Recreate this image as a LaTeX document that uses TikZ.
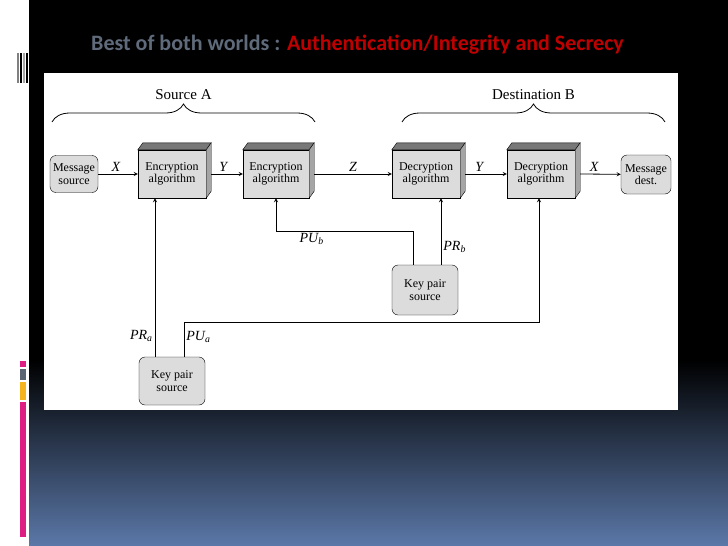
\documentclass[tikz,border=0pt]{standalone}
\usepackage{amsmath}
\usepackage{fontspec}
\setmainfont{Liberation Serif}
\newfontfamily\titlefont{Carlito}
\usetikzlibrary{decorations.pathreplacing}
\definecolor{slideGray}{RGB}{95,106,122}
\definecolor{slideRed}{RGB}{192,0,0}
\definecolor{slideBlue}{RGB}{91,120,168}
\definecolor{boxGray}{RGB}{220,220,220}
\definecolor{topGray}{RGB}{120,120,120}
\definecolor{sideGray}{RGB}{165,165,165}
\definecolor{barPink}{RGB}{222,30,130}
\definecolor{barGray}{RGB}{90,100,115}
\definecolor{barYellow}{RGB}{245,180,30}

\begin{document}
\begin{tikzpicture}[x=1pt, y=-1pt]
  \tikzstyle{algbox} = [rectangle, draw, fill=boxGray, minimum width=68pt, minimum height=48pt, align=center, inner sep=1pt, font=\fontsize{12}{12.5}\selectfont]
  \tikzstyle{endbox} = [rectangle, draw, fill=boxGray, rounded corners=6pt, align=center, inner sep=1pt, font=\fontsize{12}{12.5}\selectfont]
  \tikzstyle{arrow} = [->, >=stealth, thick]
  \tikzstyle{lbl} = [font=\fontsize{14}{14}\selectfont, inner sep=2pt]
  \tikzstyle{bracelbl} = [font=\fontsize{15}{15}\selectfont, above=19pt]

  \useasboundingbox (0,0) rectangle (728,546);
  % slide background
  \fill[white] (0,0) rectangle (728,546);
  \fill[black] (29,0) rectangle (728,546);
  \shade[top color=black, bottom color=slideBlue] (29,360) rectangle (728,546);
  \foreach \x/\c in {18/gray, 21/black, 24/gray!70, 27/black}
    \draw[\c, line width=1.5pt] (\x,53) -- (\x,83);
  \fill[barPink] (20,361) rectangle (26,367);
  \fill[barGray] (20,369) rectangle (26,380);
  \fill[barYellow] (20,382) rectangle (26,400);
  \fill[barPink] (20,402) rectangle (26,537);
  \node[anchor=base west, inner sep=0, text=slideGray, font=\titlefont\bfseries\fontsize{22}{22}\selectfont] (title) at (91,50)
    {Best of both worlds : \textcolor{slideRed}{Authentication/Integrity and Secrecy}};
  \fill[white] (44,73) rectangle (678,410);

  % blocks
  \node[endbox, minimum width=48pt, minimum height=37pt] (src) at (74,174) {Message\\source};
  \node[algbox] (enc1) at (172,174) {Encryption\\algorithm};
  \node[algbox, minimum width=66pt] (enc2) at (276,174) {Encryption\\algorithm};
  \node[algbox] (dec1) at (426,174) {Decryption\\algorithm};
  \node[algbox] (dec2) at (541,174) {Decryption\\algorithm};
  \node[endbox, minimum width=50pt, minimum height=39pt] (dst) at (646,174.5) {Message\\dest.};
  \node[endbox, minimum width=66pt, minimum height=48pt] (keyA) at (172,381) {Key pair\\source};
  \node[endbox, minimum width=66pt, minimum height=50pt] (keyB) at (425,290) {Key pair\\source};

  % 3d faces
  \foreach \b in {enc1,enc2,dec1,dec2} {
    \filldraw[fill=topGray] (\b.north west) -- ++(5,-7) -- ([shift={(5,-7)}]\b.north east) -- (\b.north east) -- cycle;
    \filldraw[fill=sideGray] (\b.north east) -- ++(5,-7) -- ([shift={(5,-7)}]\b.south east) -- (\b.south east) -- cycle;
  }

  % braces
  \draw[decorate, decoration={brace, amplitude=18pt}, thick] (52,122) -- (315,122) node[midway, bracelbl] {Source A};
  \draw[decorate, decoration={brace, amplitude=18pt}, thick] (402,122) -- (665,122) node[midway, bracelbl] {Destination B};

  % message path
  \draw[arrow] (src) -- node[lbl, above, pos=0.45] {\textit{X}} (enc1);
  \draw[arrow] ([xshift=5pt]enc1.east) -- node[lbl, above, pos=0.4] {\textit{Y}} (enc2);
  \draw[arrow] ([xshift=5pt]enc2.east) -- node[lbl, above] {\textit{Z}} (dec1);
  \draw[arrow] ([xshift=5pt]dec1.east) -- node[lbl, above, pos=0.35] {\textit{Y}} (dec2);
  \draw[arrow] ([xshift=5pt]dec2.east) -- node[lbl, above, pos=0.35] {\textit{X}} (dst);

  % keys
  \coordinate (pua) at (539,322);
  \coordinate (pub) at (276,231);
  \draw[arrow] ([xshift=-17pt]keyA.north) -- node[lbl, left, pos=0.13] {$\textit{PR}_{\textit{a}}$} ([xshift=-17pt]keyA.north |- enc1.south);
  \draw[arrow] ([xshift=12pt]keyA.north) |- node[lbl, right, pos=0.29] {$\textit{PU}_{\textit{a}}$} (pua) -- (pua |- dec2.south);
  \draw[arrow] ([xshift=-12pt]keyB.north) |- node[lbl, below, pos=0.87] {$\textit{PU}_{\textit{b}}$} (pub) -- (pub |- enc2.south);
  \draw[arrow] ([xshift=16pt]keyB.north) -- node[lbl, right, pos=0.27] {$\textit{PR}_{\textit{b}}$} ([xshift=16pt]keyB.north |- dec1.south);
\end{tikzpicture}
\end{document}
